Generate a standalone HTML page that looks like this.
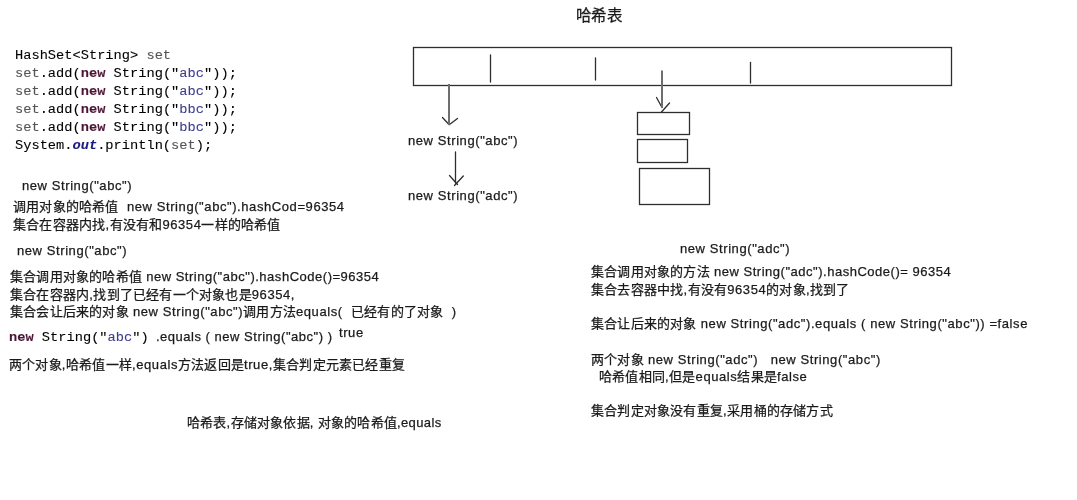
<!DOCTYPE html>
<html lang="zh-CN">
<head>
<meta charset="utf-8">
<style>
html,body{margin:0;padding:0;background:#fff;}
.t,.m{will-change:transform;}
body{width:1077px;height:500px;position:relative;overflow:hidden;font-family:"Liberation Sans",sans-serif;color:#1a1a1a;}
.t{position:absolute;white-space:pre;line-height:16px;height:16px;transform-origin:0 0;-webkit-text-stroke:0.25px #1a1a1a;}
.c{font-size:13px;letter-spacing:0.2px;}
.e{font-size:13px;letter-spacing:0.58px;}
.m{position:absolute;white-space:pre;-webkit-text-stroke:0.1px currentColor;font-family:"Liberation Mono",monospace;font-size:13.7px;line-height:18.1px;color:#000;letter-spacing:0px;}
.v{color:#555;}
.k{color:#4d1535;font-weight:bold;}
.s{color:#3c3c90;}
.f{color:#1a1a80;font-weight:bold;font-style:italic;}
svg{position:absolute;left:0;top:0;}
</style>
</head>
<body>
<svg width="1077" height="500" viewBox="0 0 1077 500">
<g fill="none" stroke="#2e2e2e" stroke-width="1.3" stroke-linecap="round">
<rect x="413.5" y="47.5" width="538" height="38"/>
<line x1="490.5" y1="55" x2="490.5" y2="82"/>
<line x1="595.5" y1="58" x2="595.5" y2="80"/>
<line x1="750.5" y1="62.5" x2="750.5" y2="83"/>
<line x1="455.5" y1="152" x2="455.5" y2="183"/>
<line x1="449.5" y1="175.5" x2="457.5" y2="184.5"/>
<line x1="463.3" y1="176" x2="454.5" y2="185.5"/>
<line x1="442.5" y1="117.5" x2="449" y2="124.5"/>
<line x1="449.5" y1="124.5" x2="457.5" y2="118.5"/>
<line x1="656.5" y1="97.5" x2="662" y2="107.5"/>
<line x1="661.5" y1="112" x2="669.5" y2="103"/>
<rect x="637.5" y="112.5" width="52" height="22"/>
<rect x="637.5" y="139.5" width="50" height="23"/>
<rect x="639.5" y="168.5" width="70" height="36"/>
</g>
<g stroke="#6e6e6e" stroke-width="2">
<line x1="449" y1="84" x2="449" y2="125"/>
<line x1="662" y1="70.5" x2="662" y2="108"/>
</g>
</svg>

<div class="m" id="c1" style="left:15px;top:46.5px">HashSet&lt;String&gt; <span class="v">set</span>
<span class="v">set</span>.add(<span class="k">new</span> String("<span class="s">abc</span>"));
<span class="v">set</span>.add(<span class="k">new</span> String("<span class="s">abc</span>"));
<span class="v">set</span>.add(<span class="k">new</span> String("<span class="s">bbc</span>"));
<span class="v">set</span>.add(<span class="k">new</span> String("<span class="s">bbc</span>"));
System.<span class="f">out</span>.println(<span class="v">set</span>);</div>
<div class="m" id="l8a" style="left:9px;top:329px"><span class="k">new</span> String("<span class="s">abc</span>")</div>
<div class="t" id="title" style="left:576px;top:7px;font-size:15.5px;line-height:18px;height:18px"><span style="letter-spacing:-0.6px">哈希表</span></div>

<div class="t" id="d1" style="left:408px;top:132px;"><span class="e">new String("abc")</span></div>
<div class="t" id="d2" style="left:408px;top:186.5px;"><span class="e">new String("adc")</span></div>
<div class="t" id="l1" style="left:22px;top:177px;"><span class="e">new String("abc")</span></div>
<div class="t" id="l2" style="left:13px;top:198px;"><span class="c">调用对象的哈希值</span><span class="e">  new String("abc").hashCod=96354</span></div>
<div class="t" id="l3" style="left:13px;top:216px;"><span class="c">集合在容器内找</span><span class="e">,</span><span class="c">有没有和</span><span class="e">96354</span><span class="c">一样的哈希值</span></div>
<div class="t" id="l4" style="left:17px;top:242px;"><span class="e">new String("abc")</span></div>
<div class="t" id="l5" style="left:10px;top:267.5px;"><span class="c">集合调用对象的哈希值</span><span class="e" style="letter-spacing:0.52px"> new String("abc").hashCode()=96354</span></div>
<div class="t" id="l6" style="left:10px;top:286px;"><span class="c">集合在容器内</span><span class="e">,</span><span class="c">找到了已经有一个对象也是</span><span class="e">96354,</span></div>
<div class="t" id="l7" style="left:10px;top:303px;"><span class="c">集合会让后来的对象</span><span class="e"> new String("abc")</span><span class="c">调用方法</span><span class="e">equals(  </span><span class="c">已经有的了对象</span><span class="e">  )</span></div>
<div class="t" id="l8b" style="left:156px;top:327.5px;"><span class="e" style="letter-spacing:0.51px">.equals ( new String("abc") )</span></div>
<div class="t" id="l8c" style="left:339px;top:324px;"><span class="e">true</span></div>
<div class="t" id="l9" style="left:9px;top:355.5px;"><span class="c">两个对象</span><span class="e">,</span><span class="c">哈希值一样</span><span class="e">,equals</span><span class="c">方法返回是</span><span class="e">true,</span><span class="c">集合判定元素已经重复</span></div>
<div class="t" id="l10" style="left:187px;top:413.5px;"><span class="c">哈希表</span><span class="e" style="letter-spacing:0.38px">,</span><span class="c">存储对象依据</span><span class="e" style="letter-spacing:0.38px">, </span><span class="c">对象的哈希值</span><span class="e" style="letter-spacing:0.38px">,equals</span></div>
<div class="t" id="r1" style="left:680px;top:240px;"><span class="e">new String("adc")</span></div>
<div class="t" id="r2" style="left:591px;top:262.5px;"><span class="c">集合调用对象的方法</span><span class="e" style="letter-spacing:0.52px"> new String("adc").hashCode()= 96354</span></div>
<div class="t" id="r3" style="left:591px;top:281px;"><span class="c">集合去容器中找</span><span class="e">,</span><span class="c">有没有</span><span class="e">96354</span><span class="c">的对象</span><span class="e">,</span><span class="c">找到了</span></div>
<div class="t" id="r4" style="left:591px;top:314.5px;"><span class="c">集合让后来的对象</span><span class="e"> new String("adc").equals ( new String("abc")) =false</span></div>
<div class="t" id="r5" style="left:591px;top:350.5px;"><span class="c">两个对象</span><span class="e"> new String("adc")   new String("abc")</span></div>
<div class="t" id="r6" style="left:599px;top:367.5px;"><span class="c">哈希值相同</span><span class="e">,</span><span class="c">但是</span><span class="e">equals</span><span class="c">结果是</span><span class="e">false</span></div>
<div class="t" id="r7" style="left:591px;top:402px;"><span class="c">集合判定对象没有重复</span><span class="e">,</span><span class="c">采用桶的存储方式</span></div>
</body>
</html>
